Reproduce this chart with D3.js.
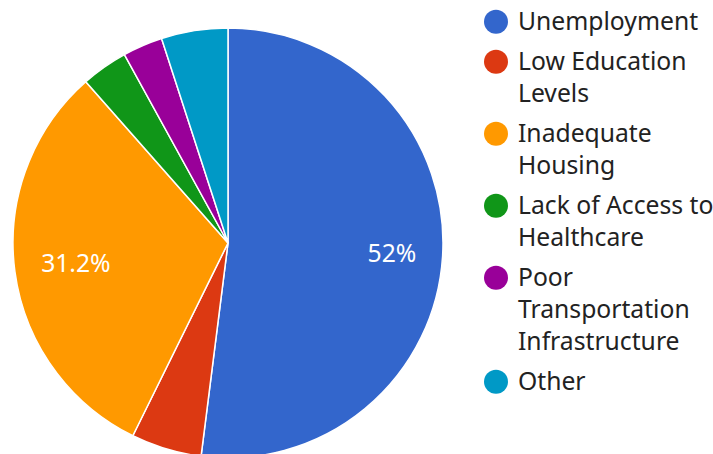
<!DOCTYPE html>
<html>
<head>
<meta charset="utf-8">
<script src="https://cdn.jsdelivr.net/npm/d3@7"></script>
<style>
  body { margin: 0; background: #fff; }
  svg { display: block; font-family: "Noto Sans", sans-serif; }
</style>
</head>
<body>
<div id="chart"></div>
<script>
// data (percent of total)
const categories = ["Unemployment", "Low Education Levels", "Inadequate Housing",
  "Lack of Access to Healthcare", "Poor Transportation Infrastructure", "Other"];
const values = [52, 5.3, 31.2, 3.5, 3.0, 5.0];
const colors = ["#3366cc", "#dc3912", "#ff9900", "#109618", "#990099", "#0099c6"];

let width = 713, height = 454;
let cx = 228, cy = 243, radius = 215;
let fontSize = 24.7;

let svg = d3.select("#chart")
  .append("svg")
  .attr("width", width)
  .attr("height", height);

let data = categories.map((c, i) => ({ name: c, value: values[i], color: colors[i] }));
let total = d3.sum(values);

let pie = d3.pie()
  .sort(null)
  .value(d => d.value);

let arc = d3.arc()
  .innerRadius(0)
  .outerRadius(radius);

let g = svg.append("g")
  .attr("transform", `translate(${cx},${cy})`);

let arcs = pie(data);

g.selectAll("path")
  .data(arcs)
  .join("path")
  .attr("d", arc)
  .attr("fill", d => d.data.color)
  .attr("stroke", "#fff")
  .attr("stroke-width", 1.5);

// only the big slices carry a percent label, pulled in so the box stays inside
g.selectAll("text.slice")
  .data(arcs.filter(d => d.data.value / total > 0.1))
  .join("text")
  .attr("class", "slice")
  .attr("text-anchor", "middle")
  .attr("dy", "0.35em")
  .attr("fill", "#fff")
  .attr("font-size", fontSize)
  .text(d => d3.format(".3~")(d.data.value / total * 100) + "%")
  .attr("transform", function (d) {
    let a = (d.startAngle + d.endAngle) / 2;
    let w = this.getComputedTextLength();
    let r = radius * 0.88 - (w / 2) * Math.abs(Math.sin(a)) - (fontSize * 0.4) * Math.abs(Math.cos(a));
    return `translate(${r * Math.sin(a)},${-r * Math.cos(a)})`;
  });

// legend
let legendX = 496, textX = 518, maxW = 200;
let lineH = 32, itemGap = 40;
let y = 21.7;

let legend = svg.append("g");
data.forEach(function (d) {
  let item = legend.append("g");
  item.append("circle")
    .attr("cx", legendX)
    .attr("cy", y)
    .attr("r", 12)
    .attr("fill", d.color);

  let text = item.append("text")
    .attr("font-size", fontSize)
    .attr("fill", "#222");

  // simple word wrap
  let words = d.name.split(" ");
  let lines = [];
  let line = [];
  let probe = text.append("tspan");
  words.forEach(function (w) {
    line.push(w);
    probe.text(line.join(" "));
    if (probe.node().getComputedTextLength() > maxW && line.length > 1) {
      line.pop();
      lines.push(line.join(" "));
      line = [w];
    }
  });
  lines.push(line.join(" "));
  probe.remove();

  lines.forEach(function (l, k) {
    text.append("tspan")
      .attr("x", textX)
      .attr("y", y + k * lineH)
      .attr("dy", "0.35em")
      .text(l);
  });

  y += (lines.length - 1) * lineH + itemGap;
});
</script>
</body>
</html>
